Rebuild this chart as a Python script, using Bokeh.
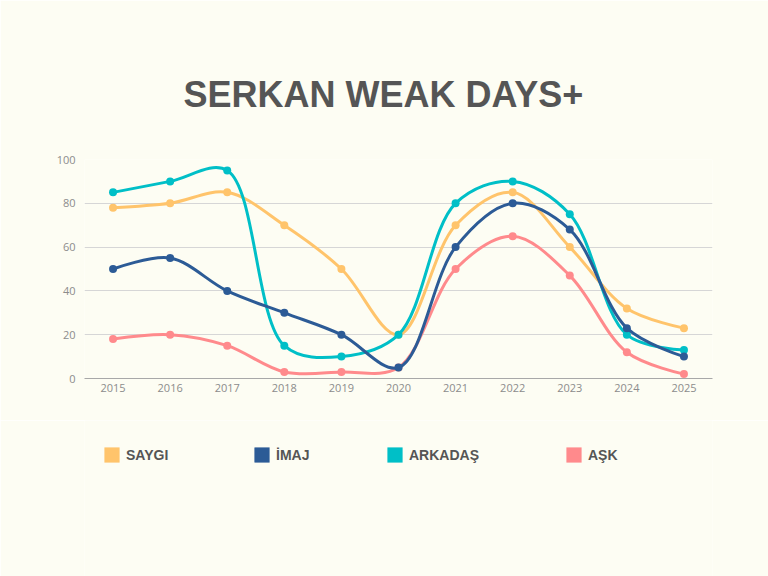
import math
from bokeh.plotting import figure
from bokeh.layouts import column
from bokeh.models import FixedTicker, Legend, LegendItem
from bokeh.embed import file_html
from bokeh.resources import INLINE

# ---- data ----
years = [2015, 2016, 2017, 2018, 2019, 2020, 2021, 2022, 2023, 2024, 2025]
saygi = [78, 80, 85, 70, 50, 20, 70, 85, 60, 32, 23]
imaj = [50, 55, 40, 30, 20, 5, 60, 80, 68, 23, 10]
arkadas = [85, 90, 95, 15, 10, 20, 80, 90, 75, 20, 13]
ask = [18, 20, 15, 3, 3, 5, 50, 65, 47, 12, 2]
series_names = ["SAYGI", "İMAJ", "ARKADAŞ", "AŞK"]
y_ticks = [0, 20, 40, 60, 80, 100]

colors = {"SAYGI": "#FFC46B", "İMAJ": "#2C5B96", "ARKADAŞ": "#00BFC7", "AŞK": "#FF8A8C"}
values = {"SAYGI": saygi, "İMAJ": imaj, "ARKADAŞ": arkadas, "AŞK": ask}
draw_order = ["SAYGI", "AŞK", "ARKADAŞ", "İMAJ"]

BG = "#FDFDF3"
W, H = 768, 576
H_MAIN = 420
ML, MR, MT, MB = 84, 56, 159, 42
x_range = (2014.5, 2025.5)
y_range = (0, 100)
kx = (W - ML - MR) / (x_range[1] - x_range[0])
ky = (H_MAIN - MT - MB) / (y_range[1] - y_range[0])


def catmull_rom(xs, ys, alpha=0.5):
    """Centripetal Catmull-Rom (as d3.curveCatmullRom) in screen space -> cubic Bezier segments."""
    P = [(x * kx, y * ky) for x, y in zip(xs, ys)]
    n = len(P)
    out = {k: [] for k in ("x0", "y0", "x1", "y1", "cx0", "cy0", "cx1", "cy1")}
    eps = 1e-12
    for i in range(n - 1):
        p0 = P[i - 1] if i > 0 else P[i]
        p1, p2 = P[i], P[i + 1]
        p3 = P[i + 2] if i + 2 < n else P[i + 1]
        d01 = math.dist(p0, p1)
        d12 = math.dist(p1, p2)
        d23 = math.dist(p2, p3)
        l01a, l01_2a = d01 ** alpha, d01 ** (2 * alpha)
        l12a, l12_2a = d12 ** alpha, d12 ** (2 * alpha)
        l23a, l23_2a = d23 ** alpha, d23 ** (2 * alpha)
        c1 = p1
        if l01a > eps:
            a = 2 * l01_2a + 3 * l01a * l12a + l12_2a
            nn = 3 * l01a * (l01a + l12a)
            c1 = ((p1[0] * a - p0[0] * l12_2a + p2[0] * l01_2a) / nn,
                  (p1[1] * a - p0[1] * l12_2a + p2[1] * l01_2a) / nn)
        c2 = p2
        if l23a > eps:
            b = 2 * l23_2a + 3 * l23a * l12a + l12_2a
            m = 3 * l23a * (l23a + l12a)
            c2 = ((p2[0] * b + p1[0] * l23_2a - p3[0] * l12_2a) / m,
                  (p2[1] * b + p1[1] * l23_2a - p3[1] * l12_2a) / m)
        out["x0"].append(p1[0] / kx); out["y0"].append(p1[1] / ky)
        out["x1"].append(p2[0] / kx); out["y1"].append(p2[1] / ky)
        out["cx0"].append(c1[0] / kx); out["cy0"].append(c1[1] / ky)
        out["cx1"].append(c2[0] / kx); out["cy1"].append(c2[1] / ky)
    return out


p = figure(width=W, height=H_MAIN, x_range=x_range, y_range=y_range,
           output_backend="svg", toolbar_location=None,
           background_fill_color=BG, border_fill_color=BG,
           outline_line_color=None,
           min_border_left=ML, min_border_right=MR,
           min_border_top=MT, min_border_bottom=MB)

p.title.text = "SERKAN WEAK DAYS+"
p.title.align = "left"
p.title.text_font = "Liberation Sans"
p.title.text_font_size = "36px"
p.title.text_font_style = "bold"
p.title.text_color = "#555555"
p.title.standoff = 89
p.title.offset = 99

# axes
p.xaxis.ticker = FixedTicker(ticks=years)
p.yaxis.ticker = FixedTicker(ticks=y_ticks)
for ax in (p.xaxis, p.yaxis):
    ax.major_tick_line_color = None
    ax.minor_tick_line_color = None
    ax.major_tick_out = 0
    ax.major_tick_in = 0
    ax.major_label_text_font = "Open Sans"
    ax.major_label_text_font_size = "11px"
    ax.major_label_text_color = "#8C8C8C"
p.yaxis.axis_line_color = None
p.yaxis.major_label_standoff = 9
p.xaxis.axis_line_color = "#A8A8A8"
p.xaxis.axis_line_width = 1
p.xaxis.major_label_standoff = 5
p.xgrid.grid_line_color = None
p.ygrid.grid_line_color = "#D6D6D6"
p.ygrid.grid_line_width = 1

for name in draw_order:
    ys = values[name]
    c = colors[name]
    seg = catmull_rom(years, ys)
    p.bezier(source=seg, x0="x0", y0="y0", x1="x1", y1="y1",
             cx0="cx0", cy0="cy0", cx1="cx1", cy1="cy1",
             line_color=c, line_width=3, line_cap="round")
    p.scatter(years, ys, size=8, fill_color=c, line_color=None)

# ---- legend strip below the chart ----
H_LEG = H - H_MAIN
pl = figure(width=W, height=H_LEG, x_range=(0, 1), y_range=(0, 1),
            output_backend="svg", toolbar_location=None,
            background_fill_color=BG, border_fill_color=BG,
            outline_line_color=None,
            min_border_left=0, min_border_right=0,
            min_border_top=0, min_border_bottom=0)
pl.axis.visible = False
pl.grid.grid_line_color = None

# offsets from the (column-aligned) frame's left edge
leg_x = {"SAYGI": 18, "İMAJ": 168, "ARKADAŞ": 301, "AŞK": 480}
for name in series_names:
    # swatch renderer: the series' own values, outside this strip's visible range
    sw = pl.quad(left=years, right=years, top=values[name], bottom=values[name],
                 fill_color=colors[name], line_color=None)
    leg = Legend(items=[LegendItem(label=name, renderers=[sw])],
                 location=(leg_x[name], H_LEG - 44), orientation="horizontal",
                 glyph_width=19, glyph_height=19, label_height=19,
                 label_standoff=5, padding=0, margin=0, spacing=0,
                 border_line_color=None, background_fill_alpha=0,
                 label_text_font="Liberation Sans",
                 label_text_font_style="bold",
                 label_text_font_size="14px",
                 label_text_color="#555555")
    pl.add_layout(leg)

layout = column(p, pl, spacing=0)
open("out.html", "w").write(file_html(layout, INLINE))
